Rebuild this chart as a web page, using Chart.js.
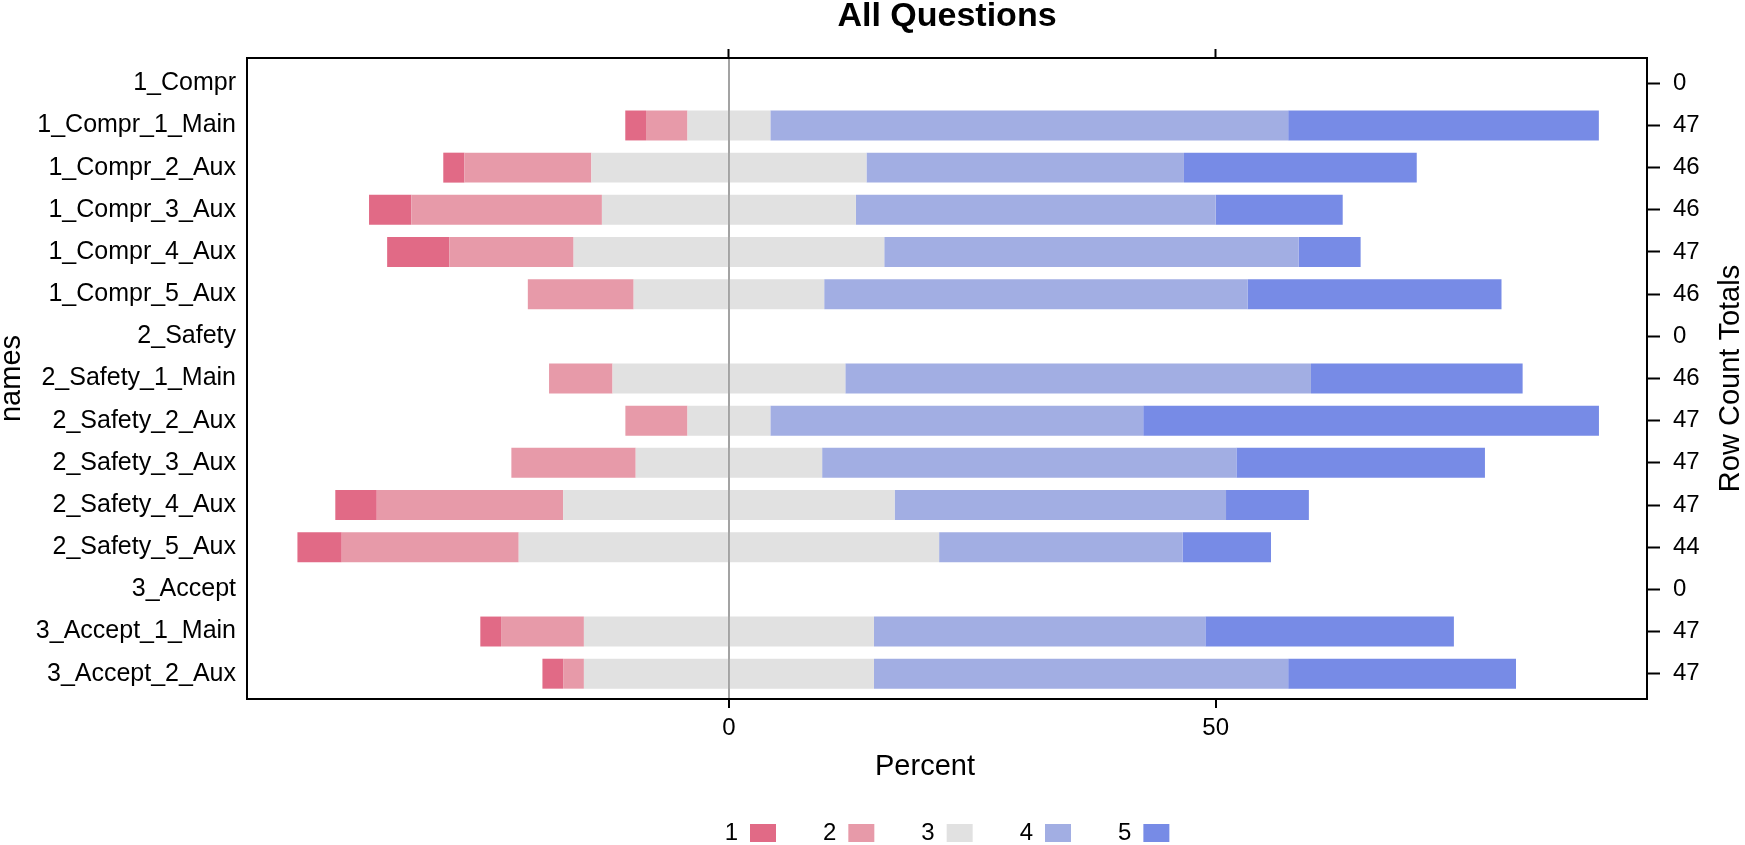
<!DOCTYPE html>
<html lang="en">
<head>
<meta charset="UTF-8">
<title>All Questions</title>
<script src="https://cdn.jsdelivr.net/npm/chart.js"></script>
<style>
    * { margin: 0; padding: 0; box-sizing: border-box; }
    body { background: #fff; width: 1745px; height: 845px; overflow: hidden; }
    #likert { display: block; }
</style>
</head>
<body>
<canvas id="likert" width="1745" height="845"></canvas>
<script>
    // rows, top to bottom
    const names = ['1_Compr', '1_Compr_1_Main', '1_Compr_2_Aux', '1_Compr_3_Aux', '1_Compr_4_Aux', '1_Compr_5_Aux',
        '2_Safety', '2_Safety_1_Main', '2_Safety_2_Aux', '2_Safety_3_Aux', '2_Safety_4_Aux', '2_Safety_5_Aux',
        '3_Accept', '3_Accept_1_Main', '3_Accept_2_Aux'];
    const rowTotals = [0, 47, 46, 46, 47, 46, 0, 46, 47, 47, 47, 44, 0, 47, 47];
    const levels = ['1', '2', '3', '4', '5'];

    // percent per answer level
    const pct1 = [0, 2.13, 2.17, 4.35, 6.38, 0, 0, 0, 0, 0, 4.26, 4.55, 0, 2.13, 2.13];
    const pct2 = [0, 4.26, 13.04, 19.57, 12.77, 10.87, 0, 6.52, 6.38, 12.77, 19.15, 18.18, 0, 8.51, 2.13];
    const pct3 = [0, 8.51, 28.26, 26.09, 31.91, 19.57, 0, 23.91, 8.51, 19.15, 34.04, 43.18, 0, 29.79, 29.79];
    const pct4 = [0, 53.19, 32.61, 36.96, 42.55, 43.48, 0, 47.83, 38.30, 42.55, 34.04, 25.00, 0, 34.04, 42.55];
    const pct5 = [0, 31.91, 23.91, 13.04, 6.38, 26.09, 0, 21.74, 46.81, 25.53, 8.51, 9.09, 0, 25.53, 23.40];

    const xTicks = [0, 50];
    const colors = ['#E16A86', '#E79AA9', '#E1E1E1', '#A2AEE3', '#778BE6'];

    const FONT = '"Liberation Sans", Arial, Helvetica, sans-serif';
    Chart.defaults.font.family = FONT;
    Chart.defaults.color = '#000';

    // negatives stack outward from 0 in dataset order: half of 3, then 2, then 1
    const bar = (label, vals, color, sign) => ({
        label: label,
        data: vals.map((v, i) => ({ x: sign * v, y: i })),
        backgroundColor: color,
        borderWidth: 0,
        stack: 'all'
    });
    const datasets = [
        bar('3', pct3.map(v => v / 2), colors[2], -1),
        bar('2', pct2, colors[1], -1),
        bar('1', pct1, colors[0], -1),
        bar('3', pct3.map(v => v / 2), colors[2], 1),
        bar('4', pct4, colors[3], 1),
        bar('5', pct5, colors[4], 1)
    ];

    const rowTicks = s => { s.ticks = names.map((n, i) => ({ value: i })); };
    const pctTicks = s => { s.ticks = xTicks.map(v => ({ value: v })); };
    const boxBorder = { display: true, color: '#000', width: 2 };

    // "Percent" sits a bit left of the panel centre, and the right title reads bottom to top
    const axisTitles = {
        id: 'axisTitles',
        afterDraw(chart) {
            const { ctx, chartArea } = chart;
            ctx.save();
            ctx.font = '29px ' + FONT;
            ctx.fillStyle = '#000';
            ctx.textAlign = 'center';
            ctx.textBaseline = 'middle';
            ctx.fillText('Percent', (chartArea.left + chartArea.right) / 2 - 22, chartArea.bottom + 68);
            ctx.translate(chart.width - 14, (chartArea.top + chartArea.bottom) / 2);
            ctx.rotate(-Math.PI / 2);
            ctx.fillText('Row Count Totals', 0, 0);
            ctx.restore();
        }
    };

    new Chart(document.getElementById('likert'), {
        type: 'bar',
        data: { datasets: datasets },
        plugins: [axisTitles],
        options: {
            indexAxis: 'y',
            responsive: false,
            animation: false,
            layout: { padding: 0 },
            datasets: { bar: { categoryPercentage: 1, barPercentage: 0.71 } },
            scales: {
                x: {
                    type: 'linear', position: 'bottom', stacked: true, min: -49.5, max: 94.3,
                    afterBuildTicks: pctTicks,
                    afterFit: s => { s.height = 75; },
                    grid: {
                        color: c => (c.tick && c.tick.value === 0) ? '#a3a3a3' : 'rgba(0,0,0,0)',
                        lineWidth: 2, tickColor: '#000', tickWidth: 2, tickLength: 9
                    },
                    border: boxBorder,
                    ticks: { padding: 6, font: { size: 24 }, color: '#000' }
                },
                x2: {
                    type: 'linear', position: 'top', min: -49.5, max: 94.3,
                    afterBuildTicks: pctTicks,
                    afterFit: s => { s.height = 24; },
                    grid: { drawOnChartArea: false, tickColor: '#000', tickWidth: 2, tickLength: 9 },
                    border: boxBorder,
                    ticks: { display: false }
                },
                y: {
                    type: 'linear', position: 'left', stacked: true, reverse: true, min: -0.6, max: 14.6,
                    offset: false,
                    afterBuildTicks: rowTicks,
                    afterFit: s => { s.width = 247; },
                    grid: { display: false, drawTicks: false, offset: false },
                    border: boxBorder,
                    ticks: { callback: v => names[v], autoSkip: false, padding: 11, font: { size: 25 }, color: '#000' },
                    title: { display: true, text: 'names', color: '#000', padding: 0, font: { size: 29, lineHeight: 0.8 } }
                },
                y2: {
                    type: 'linear', position: 'right', reverse: true, min: -0.6, max: 14.6,
                    offset: false,
                    afterBuildTicks: rowTicks,
                    afterFit: s => { s.width = 98; },
                    grid: { drawOnChartArea: false, offset: false, tickColor: '#000', tickWidth: 2, tickLength: 13 },
                    border: boxBorder,
                    ticks: { callback: v => rowTotals[v], autoSkip: false, padding: 13, font: { size: 24 }, color: '#000' }
                }
            },
            plugins: {
                title: {
                    display: true, text: 'All Questions', fullSize: false, color: '#000', padding: 0,
                    font: { size: 34, weight: 'bold', lineHeight: 1 }
                },
                legend: {
                    position: 'bottom', fullSize: false, rtl: true, maxHeight: 71,
                    labels: {
                        boxWidth: 26, boxHeight: 18, padding: 47, font: { size: 24 }, color: '#000',
                        // rtl lays items right to left, so feed them reversed
                        generateLabels: () => levels.map((l, i) => ({
                            text: l, fillStyle: colors[i], strokeStyle: colors[i], lineWidth: 0, hidden: false
                        })).reverse()
                    }
                },
                tooltip: { enabled: false }
            }
        }
    });
</script>
</body>
</html>
